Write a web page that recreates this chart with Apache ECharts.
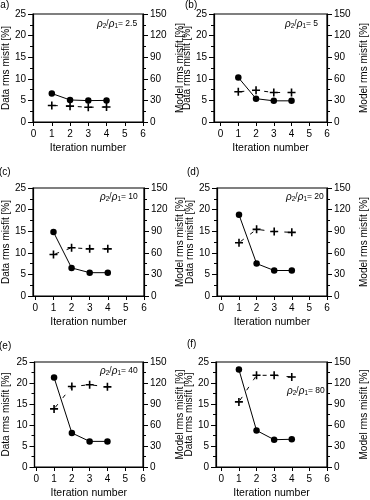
<!DOCTYPE html>
<html><head><meta charset="utf-8">
<script src="https://cdn.jsdelivr.net/npm/echarts@6/dist/echarts.min.js"></script>
<style>html,body{margin:0;padding:0;background:#fff;}#c{width:370px;height:500px;}</style>
</head><body><div id="c"></div>
<script>
// ---- data ----
const iterations = [1, 2, 3, 4];
const panelLetters = ['(a)', '(b)', '(c)', '(d)', '(e)', '(f)'];
const ratioValues = ['2.5', '5', '10', '20', '40', '80'];
const dataMisfitA = [6.6, 5.1, 4.95, 5.0];
const dataMisfitB = [10.3, 5.4, 4.9, 4.9];
const dataMisfitC = [14.8, 6.5, 5.4, 5.4];
const dataMisfitD = [18.8, 7.5, 5.9, 5.9];
const dataMisfitE = [21.3, 8.1, 6.1, 6.1];
const dataMisfitF = [23.2, 8.7, 6.5, 6.6];
const modelMisfitA = [23, 22, 20.5, 20.8];
const modelMisfitB = [42, 44, 41, 41];
const modelMisfitC = [57.6, 67, 65.5, 65.5];
const modelMisfitD = [74, 92.6, 89.5, 88.4];
const modelMisfitE = [83, 115, 117.5, 114.5];
const modelMisfitF = [93, 131, 131, 128.5];
const xTickValues = [0, 1, 2, 3, 4, 5, 6];
const xAxisName = 'Iteration number';
const leftAxisName = 'Data rms misfit [%]';
const rightAxisName = 'Model rms misfit [%]';

const dataSets = [dataMisfitA, dataMisfitB, dataMisfitC, dataMisfitD, dataMisfitE, dataMisfitF];
const modelSets = [modelMisfitA, modelMisfitB, modelMisfitC, modelMisfitD, modelMisfitE, modelMisfitF];

// ---- layout ----
const grids = [
  {left: 33, top: 14, width: 110, height: 108, xmin: -0.03, lg: 22, rg: 32.5},
  {left: 214, top: 14, width: 114, height: 108, xmin: -0.37, lg: 17.5, rg: 32},
  {left: 32, top: 188, width: 112, height: 108, xmin: -0.13, lg: 22, rg: 31.5},
  {left: 217, top: 188, width: 111, height: 108, xmin: -0.25, lg: 21, rg: 32},
  {left: 34, top: 362, width: 109, height: 108, xmin: -0.1, lg: 23.5, rg: 32.5},
  {left: 216, top: 362, width: 112, height: 108, xmin: -0.3, lg: 20, rg: 32}
];
const letterPos = [[-3, 0], [185, 0], [-1, 167], [187, 167], [-1, 341], [187, 339]];
const ratioPos = [[97, 18], [285, 18], [100, 191], [286, 191], [100, 365], [287, 385]];

const FONT = 'Liberation Sans, Arial, sans-serif';
const plusPath = 'path://M3.2,0H4.8V3.2H8V4.8H4.8V8H3.2V4.8H0V3.2H3.2Z';

const option = {
  animation: false,
  backgroundColor: '#fff',
  textStyle: {fontFamily: FONT, color: '#000'},
  title: [], grid: [], xAxis: [], yAxis: [], series: []
};

grids.forEach((g, i) => {
  option.grid.push({left: g.left, top: g.top, width: g.width, height: g.height,
    show: true, borderColor: '#000', borderWidth: 1.2, backgroundColor: 'transparent'});
  option.xAxis.push({
    type: 'value', gridIndex: i, min: g.xmin, max: 6,
    name: xAxisName, nameLocation: 'middle', nameGap: 21,
    nameTextStyle: {fontSize: 10.5, color: '#000', fontFamily: FONT},
    axisLine: {onZero: false, lineStyle: {color: '#000', width: 1.2}},
    axisTick: {show: true, length: 4, customValues: xTickValues, lineStyle: {color: '#000'}},
    axisLabel: {customValues: xTickValues, margin: 7, fontSize: 10, color: '#000', fontFamily: FONT},
    splitLine: {show: false}
  });
  option.yAxis.push({
    type: 'value', gridIndex: i, position: 'left', min: 0, max: 25, interval: 5,
    name: leftAxisName, nameLocation: 'middle', nameGap: g.lg,
    nameTextStyle: {fontSize: 10, color: '#000', fontFamily: FONT},
    axisLine: {show: true, onZero: false, lineStyle: {color: '#000', width: 1.2}},
    axisTick: {show: true, length: 5, lineStyle: {color: '#000'}},
    minorTick: {show: true, splitNumber: 2, length: 3, lineStyle: {color: '#000'}},
    axisLabel: {margin: 7, fontSize: 10, color: '#000', fontFamily: FONT},
    splitLine: {show: false}
  });
  option.yAxis.push({
    type: 'value', gridIndex: i, position: 'right', min: 0, max: 150, interval: 30,
    name: rightAxisName, nameLocation: 'middle', nameGap: g.rg,
    nameTextStyle: {fontSize: 10, color: '#000', fontFamily: FONT},
    axisLine: {show: true, onZero: false, lineStyle: {color: '#000', width: 1.2}},
    axisTick: {show: true, length: 5, lineStyle: {color: '#000'}},
    minorTick: {show: true, splitNumber: 2, length: 3, lineStyle: {color: '#000'}},
    axisLabel: {margin: 7, fontSize: 10, color: '#000', fontFamily: FONT},
    splitLine: {show: false}
  });
  option.series.push({
    type: 'line', xAxisIndex: i, yAxisIndex: 2 * i + 1,
    data: iterations.map((x, k) => [x, modelSets[i][k]]),
    symbol: plusPath, symbolSize: 8, showSymbol: true,
    itemStyle: {color: '#000'},
    lineStyle: {color: '#000', width: 1, type: [4, 8], dashOffset: -2},
    z: 3
  });
  option.series.push({
    type: 'line', xAxisIndex: i, yAxisIndex: 2 * i,
    data: iterations.map((x, k) => [x, dataSets[i][k]]),
    symbol: 'circle', symbolSize: 6.5,
    itemStyle: {color: '#000'},
    lineStyle: {color: '#000', width: 1},
    z: 4
  });

  option.title.push({
    text: panelLetters[i], left: letterPos[i][0], top: letterPos[i][1], padding: 0,
    textStyle: {fontSize: 10, fontWeight: 'normal', color: '#000', fontFamily: FONT}
  });
  option.title.push({
    text: '{r|ρ}{s|2}{n|/}{r|ρ}{s|1}{n|= ' + ratioValues[i] + '}',
    left: ratioPos[i][0], top: ratioPos[i][1], padding: 0,
    textStyle: {
      fontWeight: 'normal', color: '#000', fontFamily: FONT,
      rich: {
        r: {fontSize: 10, fontStyle: 'italic', fontFamily: FONT, color: '#000', lineHeight: 12},
        s: {fontSize: 6.5, fontFamily: FONT, color: '#000', padding: [4, 0, 0, 0], lineHeight: 12},
        n: {fontSize: 8.5, fontFamily: FONT, color: '#000', lineHeight: 12}
      }
    }
  });
});

const chart = echarts.init(document.getElementById('c'), null, {renderer: 'canvas'});
chart.setOption(option);
</script></body></html>
